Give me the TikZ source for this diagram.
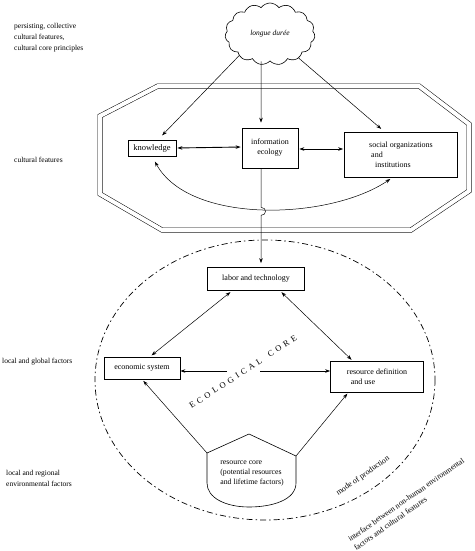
\documentclass[tikz,border=0pt]{standalone}
\usepackage{fontspec}
\setmainfont{Liberation Serif}
\newfontfamily\spacedcaps[LetterSpace=40]{Liberation Serif}
\usetikzlibrary{arrows.meta,shapes.symbols}

\tikzset{
  box/.style={draw, line width=0.7pt, inner sep=2pt, font=\fontsize{8}{10}\selectfont},
  sidenote/.style={font=\fontsize{7.5}{11}\selectfont, align=left, inner sep=1pt},
  link/.style={-{Stealth[length=5pt,width=3.5pt]}, line width=0.5pt},
  twoway/.style={{Stealth[length=5pt,width=3.5pt]}-{Stealth[length=5pt,width=3.5pt]}, line width=0.5pt},
}

\begin{document}
\begin{tikzpicture}[x=1pt,y=-1pt]
    \useasboundingbox (0,0) rectangle (474,551);

    % Longue duree
    \node[cloud, draw, line width=0.6pt, cloud puffs=15, cloud puff arc=110, aspect=1.4,
          minimum width=90pt, minimum height=62pt, inner sep=0pt] (cloud) at (270,34) {\fontsize{7.5}{9}\selectfont\textit{longue durée}};

    % Border of cultural features
    \draw[double, double distance=4pt, line width=0.5pt] (158,86) -- (419,86) -- (469,124) -- (469,191)
        -- (411,230) -- (162,230) -- (100,194) -- (100,116) -- cycle;

    % Cultural boxes
    \node[box, minimum width=48pt, minimum height=16pt, inner sep=1pt, font=\fontsize{8.5}{10}\selectfont] (know) at (152,148) {knowledge};
    \node[box, minimum width=56pt, minimum height=40pt, align=center] (info) at (270,148) {information\\ecology};
    \node[box, minimum width=113pt, minimum height=45pt, align=left] (social) at (401,155)
        {social organizations\\\hspace{2pt}and\\\hspace{6pt}institutions};

    % Ecological core
    \draw[dash pattern=on 6pt off 3pt on 1.5pt off 3pt, line width=0.7pt] (265,380) ellipse [x radius=170, y radius=140];
    \node[box, minimum width=97pt, minimum height=23pt] (labor) at (256,279) {labor and technology};
    \node[box, minimum width=76pt, minimum height=22pt] (econ) at (142,368) {economic system};
    \node[box, minimum width=93pt, minimum height=31pt, align=left] (resdef) at (377,377)
        {resource definition\\\hspace{4pt}and use};
    \node[rotate=33, font=\spacedcaps\fontsize{8.5}{9}\selectfont] (ecocore) at (243,372) {ECOLOGICAL\quad CORE};
    \coordinate (ecoL) at (227,371);
    \coordinate (ecoR) at (260,371);

    % Resource core
    \coordinate (rcl) at (207,453);
    \coordinate (rcr) at (296,456);
    \draw[line width=0.6pt] (249,434) -- (rcr) -- (296,483) .. controls (296,500) and (272,507) .. (249,507)
        .. controls (226,507) and (207,498) .. (207,483) -- (rcl) -- cycle;
    \node[sidenote, font=\fontsize{7.8}{10}\selectfont] (rescore) at (252,473)
        {resource core\\(potential resources\\and lifetime factors)};

    % Arrows
    \draw[link, shorten >=6pt] (cloud.215) -- ([xshift=6pt]know.north);
    \draw[link, shorten >=5pt] ([xshift=-9pt]cloud.south) -- ([xshift=-9pt]info.north);
    \draw[link, shorten >=5pt] (cloud.-40) -- ([xshift=-16pt]social.north);
    \draw[twoway, line width=0.9pt, shorten <=1pt, shorten >=1pt] (know.east) -- ([yshift=1pt]info.west);
    \draw[twoway, shorten <=1pt, shorten >=1pt] ([yshift=-1pt]info.east) -- ([yshift=-1pt]info.east -| social.west);
    \draw[twoway, shorten <=6pt, shorten >=2pt] (know.south) .. controls (190,225) and (330,220) .. ([xshift=-9pt]social.south);
    \draw[link, shorten >=4pt] ([xshift=-9pt]info.south) -- ++(0,39) .. controls +(6,0) and +(6,0) .. ++(0,8)
        -- ([xshift=5pt]labor.north);
    \draw[twoway, shorten <=2pt, shorten >=2pt] ([xshift=-24pt]labor.south) -- ([xshift=8pt]econ.north);
    \draw[twoway, shorten <=2pt, shorten >=2pt] ([xshift=24pt]labor.south) -- ([xshift=-24pt]resdef.north);
    \draw[link, line width=0.7pt] (ecoL) -- (ecoL -| econ.east);
    \draw[link] (ecoR) -- (ecoR -| resdef.west);
    \draw[link, shorten >=2pt] (rcl) -- (econ.south);
    \draw[link, shorten >=1pt] (rcr) -- ([xshift=-29pt]resdef.south);

    % Text
    \node[sidenote, anchor=north west] (persist) at (13,22) {persisting, collective\\cultural features,\\cultural core principles};
    \node[sidenote, anchor=west] (cultfeat) at (13,160) {cultural features};
    \node[sidenote, anchor=west] (locglob) at (1,362) {local and global factors};
    \node[sidenote, anchor=west] (locreg) at (5,478) {local and regional\\environmental factors};
    \node[sidenote, rotate=35, font=\fontsize{8}{10}\selectfont] (mode) at (363,476) {mode of production};
    \node[sidenote, rotate=35, font=\fontsize{7.8}{10.5}\selectfont] (iface) at (409,504)
        {interface between non-human environmental\\factors and cultural features};

\end{tikzpicture}
\end{document}
